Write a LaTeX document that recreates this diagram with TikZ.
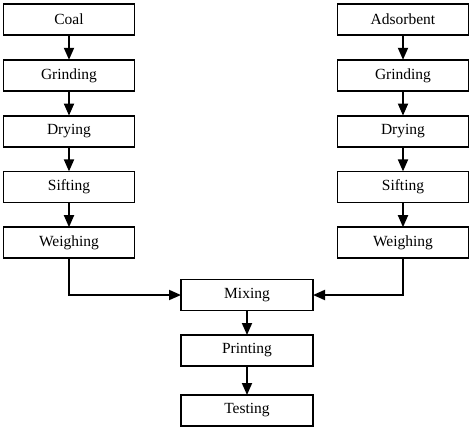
\documentclass[tikz,border=0pt]{standalone}
\usepackage{fontspec}
\setmainfont{Liberation Serif}
\usetikzlibrary{positioning}
\usetikzlibrary{arrows.meta}

\tikzset{
  stage/.style={draw, line width=1.8pt, minimum width=131pt, minimum height=31pt,
    inner sep=0pt, outer sep=0pt, font=\fontsize{15.5}{18}\selectfont},
  flow/.style={line width=1.8pt, -{Triangle[length=12pt,width=10pt]}}
}

\begin{document}
\begin{tikzpicture}[align=center, node distance=24.8pt, auto]
  \useasboundingbox (0,0) rectangle (474pt,-432pt);
  \node[stage] (Coal) at (69pt,-19.5pt) {Coal};
  \node[stage] (GrindC) [below=of Coal] {Grinding};
  \node[stage] (DryC) [below=of GrindC] {Drying};
  \node[stage] (SiftC) [below=of DryC] {Sifting};
  \node[stage] (WeighC) [below=of SiftC] {Weighing};
  \node[stage] (Ads) at (403pt,-19.5pt) {Adsorbent};
  \node[stage] (GrindA) [below=of Ads] {Grinding};
  \node[stage] (DryA) [below=of GrindA] {Drying};
  \node[stage] (SiftA) [below=of DryA] {Sifting};
  \node[stage] (WeighA) [below=of SiftA] {Weighing};
  \node[stage, minimum width=132pt] (Mix) at (247pt,-295pt) {Mixing};
  \node[stage, minimum width=132pt] (Print) [below=24.5pt of Mix] {Printing};
  \node[stage, minimum width=132pt] (Test) [below=29pt of Print] {Testing};
  \draw[flow] (Coal) to (GrindC);
  \draw[flow] (GrindC) to (DryC);
  \draw[flow] (DryC) to (SiftC);
  \draw[flow] (SiftC) to (WeighC);
  \draw[flow] (Ads) to (GrindA);
  \draw[flow] (GrindA) to (DryA);
  \draw[flow] (DryA) to (SiftA);
  \draw[flow] (SiftA) to (WeighA);
  \draw[flow] (WeighC.south) |- (Mix.west);
  \draw[flow] (WeighA.south) |- (Mix.east);
  \draw[flow] (Mix) to (Print);
  \draw[flow] (Print) to (Test);
\end{tikzpicture}
\end{document}
